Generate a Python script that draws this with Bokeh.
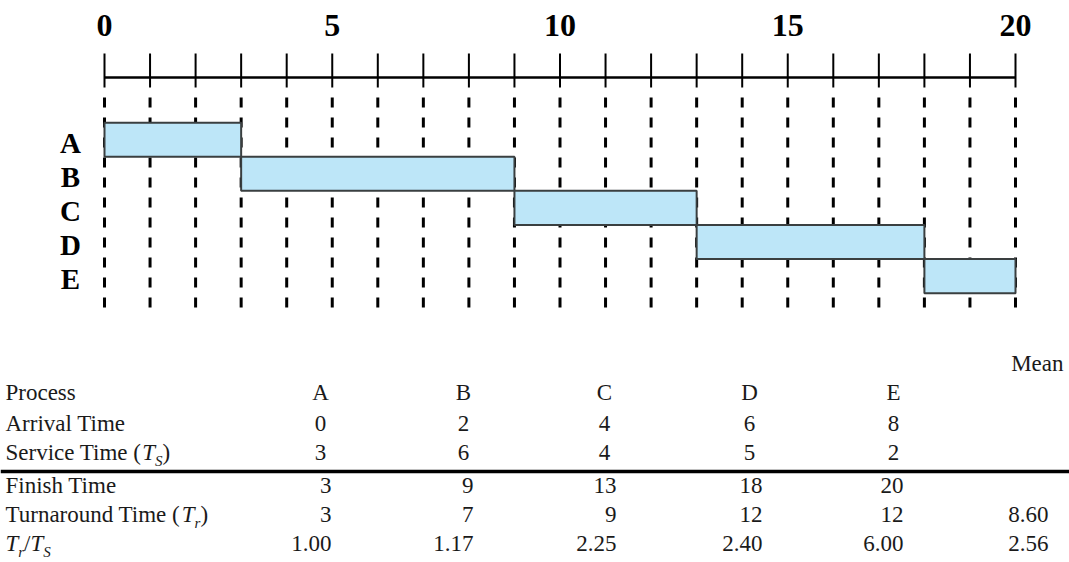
from bokeh.plotting import figure
from bokeh.models import Range1d
from bokeh.embed import file_html
from bokeh.resources import INLINE
from bokeh.core.properties import value

# ---------------- data ----------------
processes = ["A", "B", "C", "D", "E"]
arrival = [0, 2, 4, 6, 8]
service = [3, 6, 4, 5, 2]
finish = [3, 9, 13, 18, 20]
turnaround = [3, 7, 9, 12, 12]
ratio = [1.00, 1.17, 2.25, 2.40, 6.00]
mean_turnaround = 8.60
mean_ratio = 2.56
minor_ticks = list(range(0, 21))
tick_labels = [0, 5, 10, 15, 20]
start = [f - s for f, s in zip(finish, service)]

# ---------------- layout ----------------
W, H = 1069, 562
X0, XS = 104, (1015 - 104) / 20.0   # px of t=0, px per time unit
Y0, YS = 139.2, 34.1                # px of row A centre, px per row
# renderer places alphabetic baselines lower than asked; compensate (px)
SHIFT = {15: 6, 23: 9, 29: 12, 32: 10}


def fx(px):
    return (px - X0) / XS


def fy(py):
    return (py - Y0) / YS


p = figure(width=W, height=H, x_range=Range1d(fx(0), fx(W)),
           y_range=Range1d(fy(H), fy(0)),
           toolbar_location=None, output_backend="svg", min_border=0,
           x_axis_location=None, y_axis_location=None)
p.grid.visible = False
p.outline_line_color = None
p.background_fill_color = "white"
p.border_fill_color = "white"

SERIF = value("Liberation Serif")
TXT = "#1a1a1a"

# ---------------- Gantt ----------------
n = len(minor_ticks)
p.segment(x0=minor_ticks, x1=minor_ticks, y0=[fy(97)] * n, y1=[fy(308)] * n,
          line_color="black", line_width=3, line_dash="10 10")
p.segment(x0=minor_ticks, x1=minor_ticks, y0=[fy(53)] * n, y1=[fy(87)] * n,
          line_color="black", line_width=2)
p.segment(x0=[minor_ticks[0]], x1=[minor_ticks[-1]], y0=[fy(77)], y1=[fy(77)],
          line_color="black", line_width=2.6)

rows = list(range(len(processes)))
p.quad(left=start, right=finish, top=[r - 0.5 for r in rows],
       bottom=[r + 0.5 for r in rows], fill_color="#bde6f8",
       line_color="#3a3f40", line_width=2)

p.text(x=[fx(70)] * len(rows), y=[r + (15.3 - SHIFT[29]) / YS for r in rows], text=processes,
       text_font=SERIF, text_font_size=value("29px"), text_font_style="bold",
       text_align="center", text_baseline="alphabetic", text_color="black")

p.text(x=tick_labels, y=[fy(35 - SHIFT[32])] * len(tick_labels), text=[str(t) for t in tick_labels],
       text_font=SERIF, text_font_size=value("32px"), text_font_style="bold",
       text_align="center", text_baseline="alphabetic", text_color="black")

# ---------------- table ----------------
FS = 23
SUB = 15
col_center = [320, 463, 604, 749, 893]
col_right = [331, 473, 616, 762, 903]
mean_right = 1048
base = {"mean": 372, "proc": 401, "arr": 432, "serv": 461, "fin": 494,
        "turn": 523, "ratio": 552}

# Times metrics (1/1000 em)
REG = {"S": 556, "e": 444, "r": 333, "v": 500, "i": 278, "c": 444, " ": 250,
       "T": 611, "m": 778, "(": 333, ")": 333, "u": 500, "n": 500, "a": 444,
       "o": 500, "d": 500, "/": 278}
ITA = {"T": 556, "r": 389, "S": 500, "/": 278}


def tw(s, size, italic=False):
    tab = ITA if italic else REG
    return sum(tab.get(ch, 500) for ch in s) * size / 1000.0


pieces = {"reg": ([], [], []), "ita": ([], [], []), "sub": ([], [], [])}


def add_row(parts, baseline, x_start=5):
    x = x_start
    for txt, kind in parts:
        size = SUB if kind == "sub" else FS
        yb = baseline + 5 if kind == "sub" else baseline
        pieces[kind][0].append(fx(x))
        pieces[kind][1].append(fy(yb - SHIFT[size]))
        pieces[kind][2].append(txt)
        x += tw(txt, size, kind != "reg")


add_row([("Process", "reg")], base["proc"])
add_row([("Arrival Time", "reg")], base["arr"])
add_row([("Service Time (", "reg"), ("T", "ita"), ("S", "sub"), (")", "reg")], base["serv"])
add_row([("Finish Time", "reg")], base["fin"])
add_row([("Turnaround Time (", "reg"), ("T", "ita"), ("r", "sub"), (")", "reg")], base["turn"])
add_row([("T", "ita"), ("r", "sub"), ("/", "reg"), ("T", "ita"), ("S", "sub")], base["ratio"])

for kind, (xs, ys, ts) in pieces.items():
    p.text(x=xs, y=ys, text=ts, text_font=SERIF,
           text_font_size=value(f"{SUB if kind == 'sub' else FS}px"),
           text_font_style="normal" if kind == "reg" else "italic",
           text_align="left", text_baseline="alphabetic", text_color=TXT)

k = len(processes)
cx = [fx(c) for c in col_center]
rx = [fx(c) for c in col_right]
common = dict(text_font=SERIF, text_font_size=value(f"{FS}px"),
              text_baseline="alphabetic", text_color=TXT)


def by(key):
    return fy(base[key] - SHIFT[FS])


p.text(x=cx, y=[by("proc")] * k, text=processes, text_align="center", **common)
p.text(x=cx, y=[by("arr")] * k, text=[str(v) for v in arrival], text_align="center", **common)
p.text(x=cx, y=[by("serv")] * k, text=[str(v) for v in service], text_align="center", **common)
p.text(x=rx, y=[by("fin")] * k, text=[str(v) for v in finish], text_align="right", **common)
p.text(x=rx + [fx(mean_right)], y=[by("turn")] * (k + 1),
       text=[str(v) for v in turnaround] + [f"{mean_turnaround:.2f}"], text_align="right", **common)
p.text(x=rx + [fx(mean_right)], y=[by("ratio")] * (k + 1),
       text=[f"{v:.2f}" for v in ratio] + [f"{mean_ratio:.2f}"], text_align="right", **common)
p.text(x=[fx(1063)], y=[by("mean")], text=["Mean"], text_align="right", **common)

p.segment(x0=[fx(0)], x1=[fx(1069)], y0=[fy(471)], y1=[fy(471)],
          line_color="black", line_width=3.5)

open("out.html", "w").write(file_html(p, INLINE))
